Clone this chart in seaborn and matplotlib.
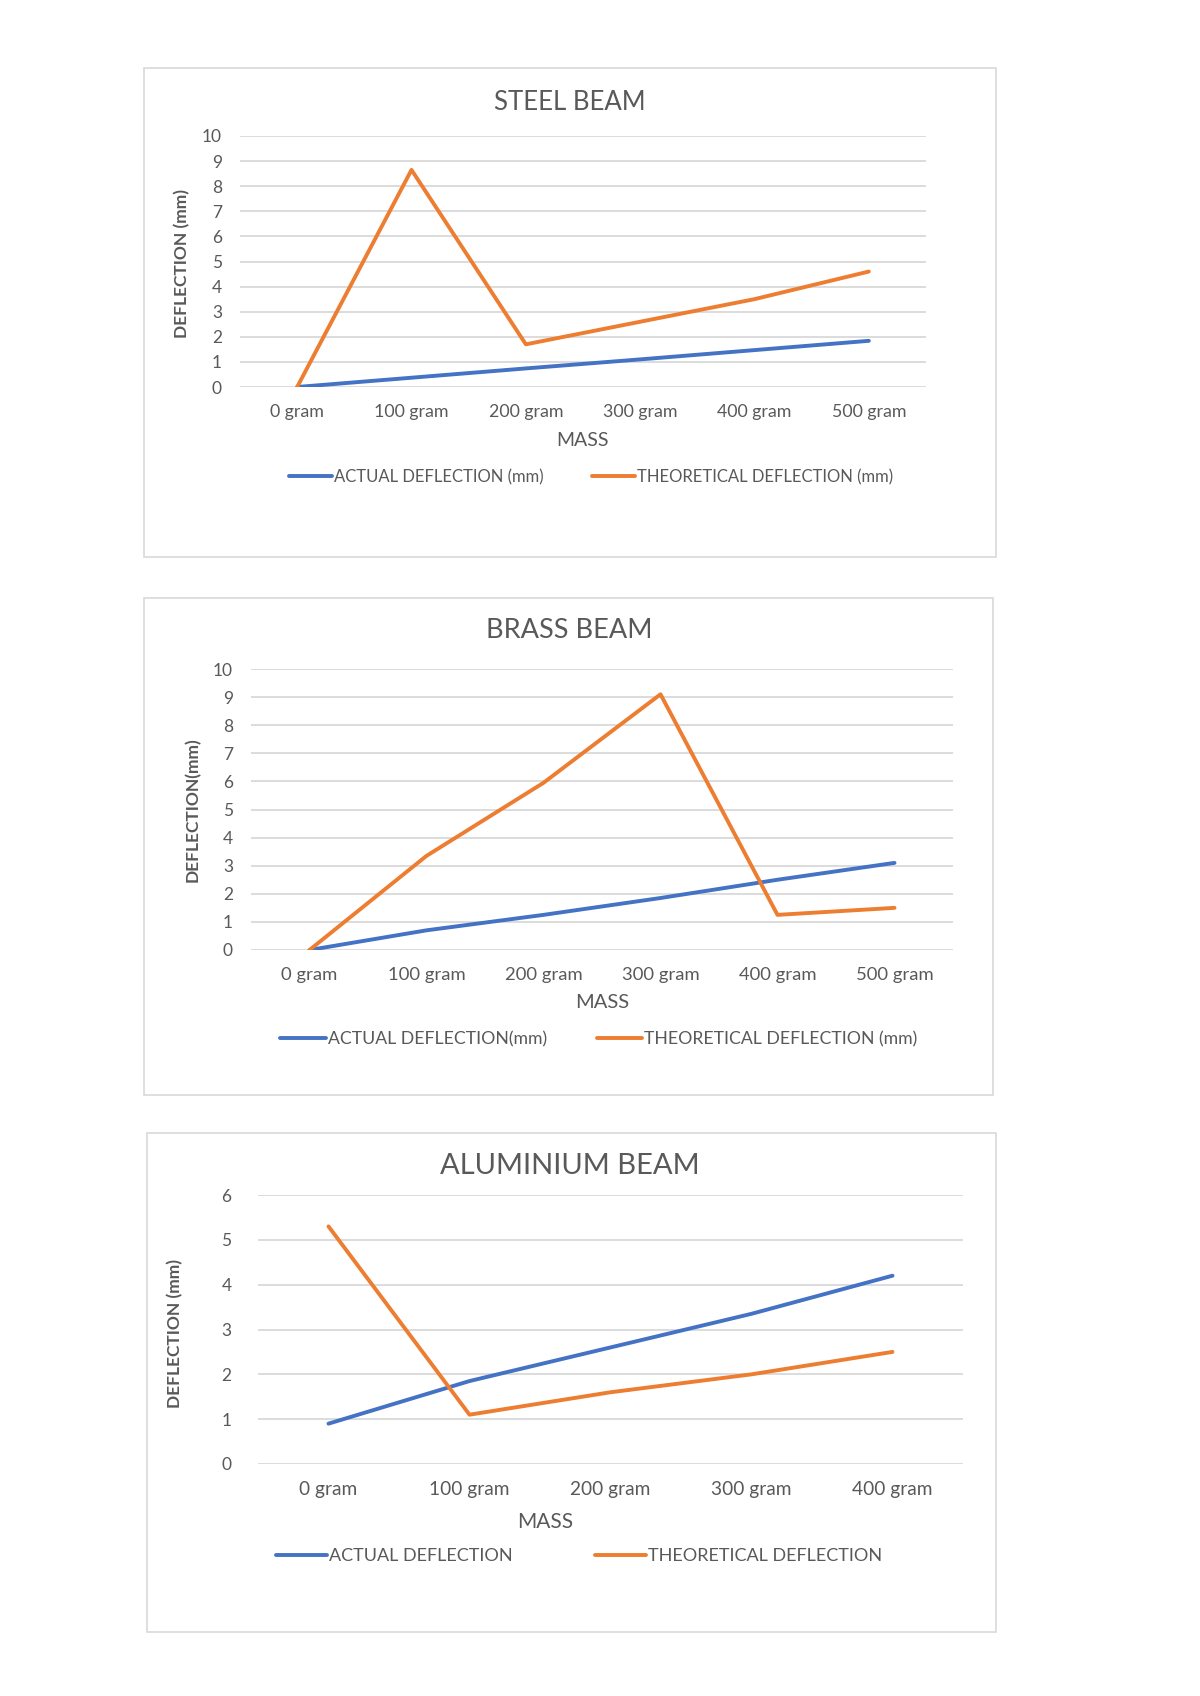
import pandas as pd
import seaborn as sns
import matplotlib.pyplot as plt
from matplotlib.patches import Rectangle


# Data
steel_mass = ["0 gram", "100 gram", "200 gram", "300 gram", "400 gram", "500 gram"]
steel_actual = [0, 0.37, 0.74, 1.1, 1.47, 1.84]
steel_theory = [0, 8.65, 1.7, 2.6, 3.5, 4.6]

brass_mass = ["0 gram", "100 gram", "200 gram", "300 gram", "400 gram", "500 gram"]
brass_actual = [0, 0.7, 1.25, 1.85, 2.5, 3.1]
brass_theory = [0, 3.35, 5.95, 9.1, 1.25, 1.5]

alu_mass = ["0 gram", "100 gram", "200 gram", "300 gram", "400 gram"]
alu_actual = [0.9, 1.85, 2.6, 3.35, 4.2]
alu_theory = [5.3, 1.1, 1.6, 2.0, 2.5]

BLUE = "#4472C4"
ORANGE = "#ED7D31"
GRID = "#D9D9D9"
TEXT = "#595959"

sns.set_theme(style="white")
plt.rcParams["font.family"] = ["Lato", "DejaVu Sans"]

W, H = 1200, 1696
fig = plt.figure(figsize=(W / 100, H / 100), dpi=100)


def fx(px):
    return px / W


def fy(py):
    return 1 - py / H


def beam_chart(box, axbox, mass, actual, theory, labels, ymax, title, ylabel,
               title_xy, title_size, mass_xy, ylab_xy, legend_xy, ypad,
               tick_size, mass_size, leg_size, handle_len, col_space):
    # outer chart frame
    x0, y0, x1, y1 = box
    fig.patches.append(Rectangle((fx(x0), fy(y1)), fx(x1) - fx(x0), fy(y0) - fy(y1),
                                 transform=fig.transFigure, fill=False,
                                 edgecolor=GRID, lw=1.2))
    l, t, r, b = axbox
    ax = fig.add_axes([fx(l), fy(b), fx(r) - fx(l), fy(t) - fy(b)])

    df = pd.DataFrame({
        "MASS": mass + mass,
        "value": actual + theory,
        "series": [labels[0]] * len(mass) + [labels[1]] * len(mass),
    })
    sns.lineplot(data=df, x="MASS", y="value", hue="series", sort=False,
                 palette=[BLUE, ORANGE], lw=2.8, ax=ax)

    ax.set_xlim(-0.5, len(mass) - 0.5)
    ax.set_ylim(0, ymax)
    ax.set_yticks(range(0, ymax + 1))
    ax.grid(axis="y", color=GRID, lw=1.3)
    ax.set_axisbelow(True)
    for s in ax.spines.values():
        s.set_visible(False)
    ax.tick_params(axis="both", length=0, colors=TEXT)
    ax.tick_params(axis="y", pad=ypad, labelsize=12.5)
    ax.tick_params(axis="x", pad=12, labelsize=tick_size)
    ax.set_xlabel("")
    ax.set_ylabel("")

    fig.text(fx(title_xy[0]), fy(title_xy[1]), title, ha="center", va="center",
             fontsize=title_size, color=TEXT)
    fig.text(fx(mass_xy[0]), fy(mass_xy[1]), "MASS", ha="center", va="center",
             fontsize=mass_size, color=TEXT)
    fig.text(fx(ylab_xy[0]), fy(ylab_xy[1]), ylabel, ha="center", va="center",
             rotation=90, fontsize=12.5, color=TEXT, fontweight="bold")

    sns.move_legend(ax, "center", bbox_to_anchor=(fx(legend_xy[0]), fy(legend_xy[1])),
                    bbox_transform=fig.transFigure, ncol=2, frameon=False, title=None,
                    fontsize=leg_size, handlelength=handle_len, handletextpad=0.1,
                    columnspacing=col_space, labelcolor=TEXT)
    return ax


beam_chart((144, 68, 996, 557), (240, 136, 926, 387), steel_mass, steel_actual,
           steel_theory, ["ACTUAL DEFLECTION (mm)", "THEORETICAL DEFLECTION (mm)"],
           10, "STEEL BEAM", "DEFLECTION (mm)", (570, 103), 18.5, (582, 441),
           (182, 263), (591, 477), 13, 12.8, 14, 12, 2.6, 2.9)

beam_chart((144, 598, 993, 1095), (251, 669, 953, 950), brass_mass, brass_actual,
           brass_theory, ["ACTUAL DEFLECTION(mm)", "THEORETICAL DEFLECTION (mm)"],
           10, "BRASS BEAM", "DEFLECTION(mm)", (569, 631), 19.5, (602, 1002),
           (193, 810), (599, 1039), 13, 13.3, 14.5, 12.7, 2.6, 2.8)

beam_chart((147, 1133, 996, 1632), (258, 1195, 963, 1464), alu_mass, alu_actual,
           alu_theory, ["ACTUAL DEFLECTION", "THEORETICAL DEFLECTION"],
           6, "ALUMINIUM BEAM", "DEFLECTION (mm)", (570, 1166), 21, (545, 1522),
           (175, 1334), (579, 1556), 19, 13.8, 15, 13, 2.8, 4.6)

fig.savefig("out.png", dpi=100, facecolor="white")
